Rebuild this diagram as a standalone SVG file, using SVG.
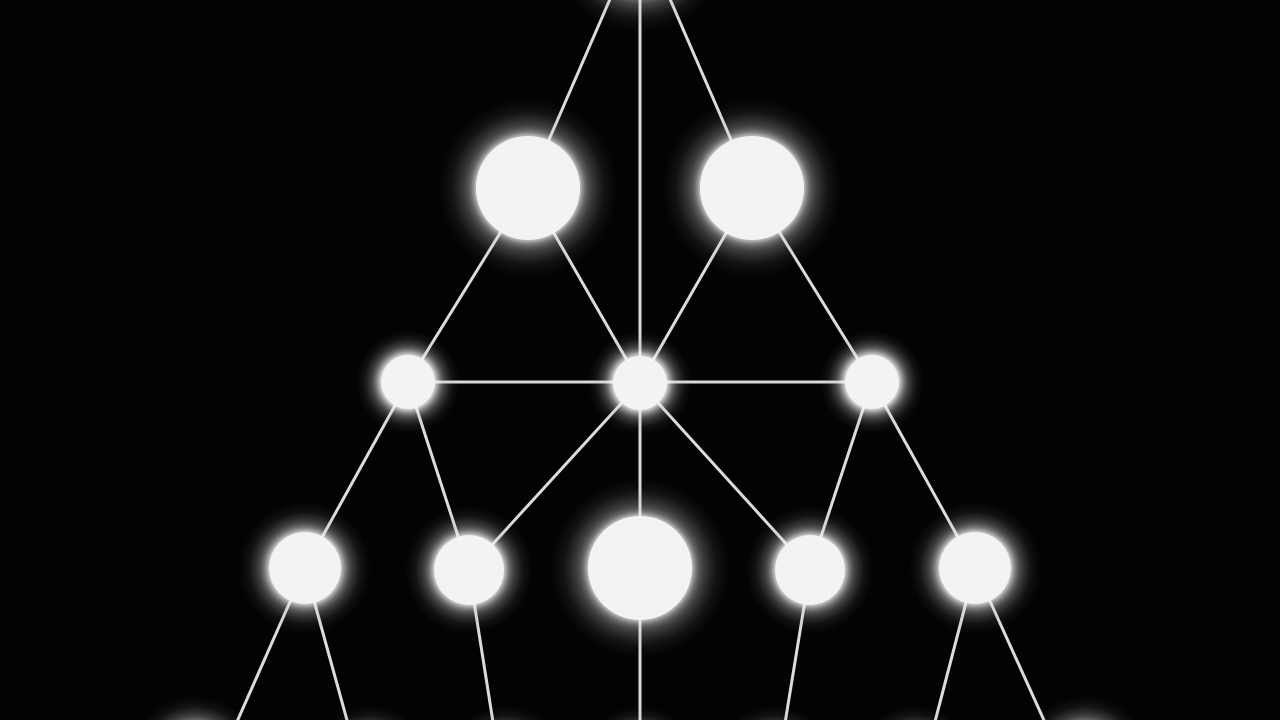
<svg xmlns="http://www.w3.org/2000/svg" width="1280" height="720" viewBox="0 0 1280 720">
<defs>
<radialGradient id="halo">
<stop offset="0" stop-color="#ffffff" stop-opacity="0.9"/>
<stop offset="0.5" stop-color="#ffffff" stop-opacity="0.75"/>
<stop offset="0.7" stop-color="#d0d0d0" stop-opacity="0.3"/>
<stop offset="0.85" stop-color="#a0a0a0" stop-opacity="0.1"/>
<stop offset="1" stop-color="#808080" stop-opacity="0"/>
</radialGradient>
<filter id="soft" x="-20%" y="-20%" width="140%" height="140%">
<feGaussianBlur in="SourceGraphic" stdDeviation="3" result="b1"/>
<feMerge><feMergeNode in="b1"/><feMergeNode in="SourceGraphic"/></feMerge>
</filter>
<style>
.edge{stroke:#dcdcdc;stroke-width:3;fill:none}
.node{fill:#f3f3f3;filter:url(#soft)}
.halo{fill:url(#halo)}
</style>
</defs>
<rect width="1280" height="720" fill="#030303"/>
<g id="connectors">
<line class="edge" x1="640" y1="-70" x2="528" y2="188"/>
<line class="edge" x1="640" y1="-70" x2="752" y2="188"/>
<line class="edge" x1="640" y1="-70" x2="640" y2="383"/>
<line class="edge" x1="528" y1="188" x2="408" y2="382"/>
<line class="edge" x1="528" y1="188" x2="640" y2="383"/>
<line class="edge" x1="752" y1="188" x2="640" y2="383"/>
<line class="edge" x1="752" y1="188" x2="872" y2="382"/>
<line class="edge" x1="408" y1="382" x2="872" y2="382"/>
<line class="edge" x1="408" y1="382" x2="305" y2="568"/>
<line class="edge" x1="408" y1="382" x2="469" y2="570"/>
<line class="edge" x1="640" y1="383" x2="469" y2="570"/>
<line class="edge" x1="640" y1="383" x2="640" y2="568"/>
<line class="edge" x1="640" y1="383" x2="810" y2="570"/>
<line class="edge" x1="872" y1="382" x2="810" y2="570"/>
<line class="edge" x1="872" y1="382" x2="975" y2="568"/>
<line class="edge" x1="305" y1="568" x2="220" y2="760"/>
<line class="edge" x1="305" y1="568" x2="358" y2="760"/>
<line class="edge" x1="469" y1="570" x2="499" y2="760"/>
<line class="edge" x1="640" y1="568" x2="640" y2="760"/>
<line class="edge" x1="810" y1="570" x2="779" y2="760"/>
<line class="edge" x1="975" y1="568" x2="925" y2="760"/>
<line class="edge" x1="975" y1="568" x2="1062" y2="760"/>
</g>
<g id="n-top"><circle class="halo" cx="640" cy="-58" r="90"/><circle class="node" cx="640" cy="-58" r="50"/></g>
<g id="n-a1"><circle class="halo" cx="528" cy="188" r="90"/><circle class="node" cx="528" cy="188" r="52"/></g>
<g id="n-a2"><circle class="halo" cx="752" cy="188" r="90"/><circle class="node" cx="752" cy="188" r="52"/></g>
<g id="n-b1"><circle class="halo" cx="408" cy="382" r="52"/><circle class="node" cx="408" cy="382" r="27"/></g>
<g id="n-b2"><circle class="halo" cx="640" cy="383" r="52"/><circle class="node" cx="640" cy="383" r="27"/></g>
<g id="n-b3"><circle class="halo" cx="872" cy="382" r="52"/><circle class="node" cx="872" cy="382" r="27"/></g>
<g id="n-c1"><circle class="halo" cx="305" cy="568" r="66"/><circle class="node" cx="305" cy="568" r="36"/></g>
<g id="n-c2"><circle class="halo" cx="469" cy="570" r="64"/><circle class="node" cx="469" cy="570" r="35"/></g>
<g id="n-c3"><circle class="halo" cx="640" cy="568" r="90"/><circle class="node" cx="640" cy="568" r="52"/></g>
<g id="n-c4"><circle class="halo" cx="810" cy="570" r="64"/><circle class="node" cx="810" cy="570" r="35"/></g>
<g id="n-c5"><circle class="halo" cx="975" cy="568" r="66"/><circle class="node" cx="975" cy="568" r="36"/></g>
<g id="n-d1"><circle class="halo" cx="195" cy="762" r="66"/><circle class="node" cx="195" cy="762" r="36"/></g>
<g id="n-d2"><circle class="halo" cx="370" cy="768" r="62"/><circle class="node" cx="370" cy="768" r="34"/></g>
<g id="n-d3"><circle class="halo" cx="505" cy="768" r="62"/><circle class="node" cx="505" cy="768" r="34"/></g>
<g id="n-d4"><circle class="halo" cx="640" cy="768" r="62"/><circle class="node" cx="640" cy="768" r="34"/></g>
<g id="n-d5"><circle class="halo" cx="775" cy="768" r="62"/><circle class="node" cx="775" cy="768" r="34"/></g>
<g id="n-d6"><circle class="halo" cx="915" cy="768" r="62"/><circle class="node" cx="915" cy="768" r="34"/></g>
<g id="n-d7"><circle class="halo" cx="1085" cy="762" r="66"/><circle class="node" cx="1085" cy="762" r="36"/></g>
</svg>
